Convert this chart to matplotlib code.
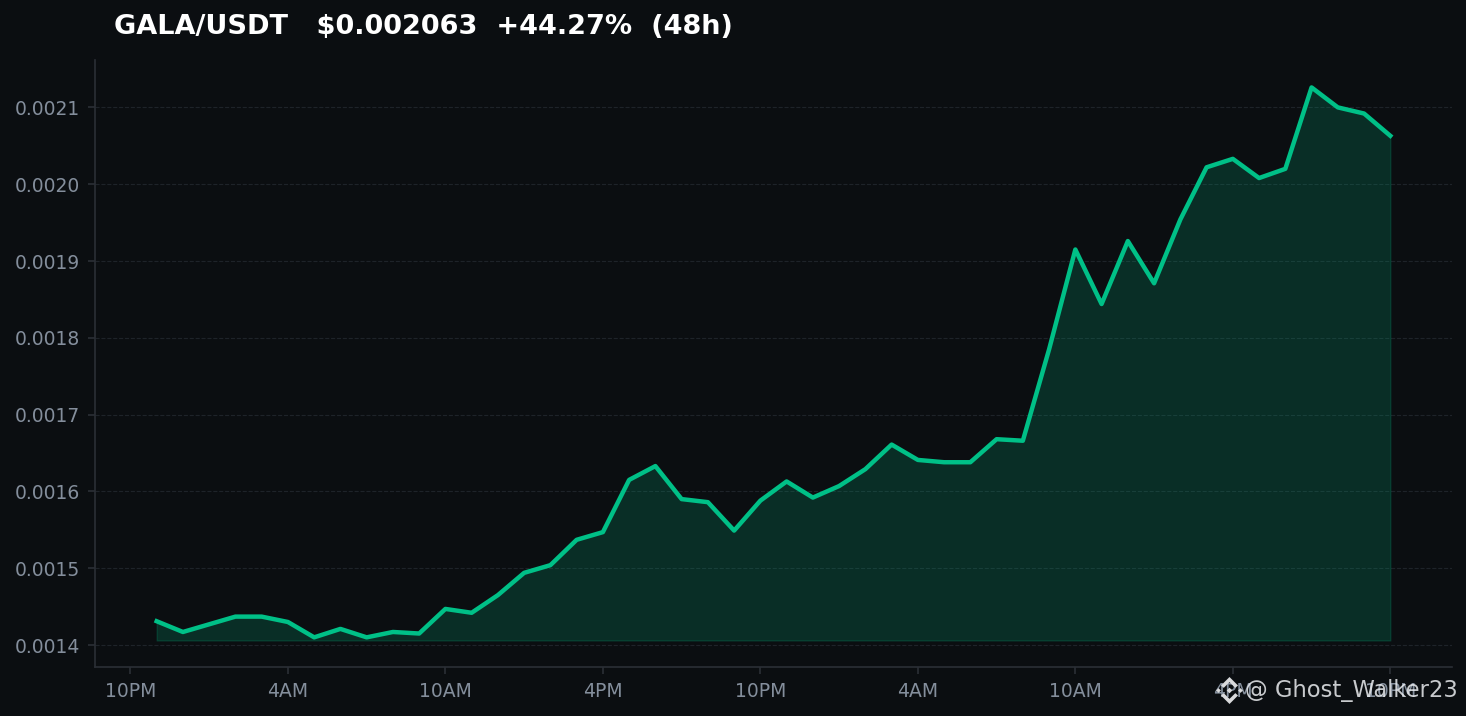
import matplotlib
matplotlib.use("Agg")
import matplotlib.pyplot as plt
from matplotlib.patches import Polygon

prices = [0.001431, 0.001417, 0.001427, 0.001437, 0.001437, 0.001430, 0.001410, 0.001421,
          0.001410, 0.001417, 0.001415, 0.001447, 0.001442, 0.001465, 0.001494, 0.001504,
          0.001537, 0.001547, 0.001615, 0.001633, 0.001590, 0.001586, 0.001549, 0.001588,
          0.001613, 0.001592, 0.001607, 0.001629, 0.001661, 0.001641, 0.001638, 0.001638,
          0.001668, 0.001666, 0.001785, 0.001915, 0.001844, 0.001926, 0.001871, 0.001954,
          0.002022, 0.002033, 0.002008, 0.002020, 0.002126, 0.002100, 0.002092, 0.002063]
hours = list(range(len(prices)))
tick_hours = [-1, 5, 11, 17, 23, 29, 35, 41, 47]
tick_labels = ["10PM", "4AM", "10AM", "4PM", "10PM", "4AM", "10AM", "4PM", "10PM"]
y_ticks = [0.0014, 0.0015, 0.0016, 0.0017, 0.0018, 0.0019, 0.0020, 0.0021]
y_labels = ["0.0014", "0.0015", "0.0016", "0.0017", "0.0018", "0.0019", "0.0020", "0.0021"]
fill_base = 0.001406
title = "GALA/USDT   $0.002063  +44.27%  (48h)"
watermark = "@ Ghost_Walker23"

BG = "#0b0e11"
GREEN = "#00c087"
SPINE = "#2b2f36"
TICK = "#848e9c"

W, H = 1466, 716
fig = plt.figure(figsize=(W / 100, H / 100), dpi=100, facecolor=BG)
ax = fig.add_axes([95 / W, 1 - 667 / H, (1452 - 95) / W, (667 - 60) / H], facecolor=BG)

ax.fill_between(hours, prices, fill_base, color=GREEN, alpha=0.18, linewidth=1)
ax.plot(hours, prices, color=GREEN, linewidth=3.2)

ax.set_xlim(-2.35, 49.35)
ax.set_ylim(0.0013714, 0.0021617)
ax.set_xticks(tick_hours, tick_labels)
ax.set_yticks(y_ticks, y_labels)
ax.tick_params(colors=SPINE, labelcolor=TICK, labelsize=13.5, length=5, width=1.2, pad=6)
ax.grid(axis="y", color="#1e2329", linestyle="--", linewidth=0.8)
ax.set_axisbelow(True)
for side in ("top", "right"):
    ax.spines[side].set_visible(False)
for side in ("left", "bottom"):
    ax.spines[side].set_color(SPINE)
    ax.spines[side].set_linewidth(1.2)

fig.text(114 / W, 1 - 27.5 / H, title, color="white", fontsize=19.5, fontweight="bold", va="center", ha="left")

fig.text(1458 / W, 1 - 691 / H, watermark, color="#eaecef", alpha=0.85, fontsize=16.3, va="center", ha="right", zorder=10)

# Exchange-style logo beside the watermark
cx, cy = 1229.5, 690.5
def diamond(dx, dy, r):
    pts = [(cx + dx, cy + dy - r), (cx + dx + r, cy + dy), (cx + dx, cy + dy + r), (cx + dx - r, cy + dy)]
    return [(px / W, 1 - py / H) for px, py in pts]
logo = "#d9dadc"
for dx, dy, r in [(0, 0, 2.8), (-11, 0, 2.4), (11, 0, 2.4)]:
    fig.add_artist(Polygon(diamond(dx, dy, r), closed=True, transform=fig.transFigure, fc=logo, ec="none", zorder=11))
for dy in (-1, 1):
    chevron = [(0, 13.5), (8.5, 5), (5.8, 2.6), (0, 8.4), (-5.8, 2.6), (-8.5, 5)]
    fig.add_artist(Polygon([((cx + x) / W, 1 - (cy + dy * y) / H) for x, y in chevron], closed=True,
                           transform=fig.transFigure, fc=logo, ec="none", zorder=11))

fig.savefig("out.png", dpi=100, facecolor=BG)
